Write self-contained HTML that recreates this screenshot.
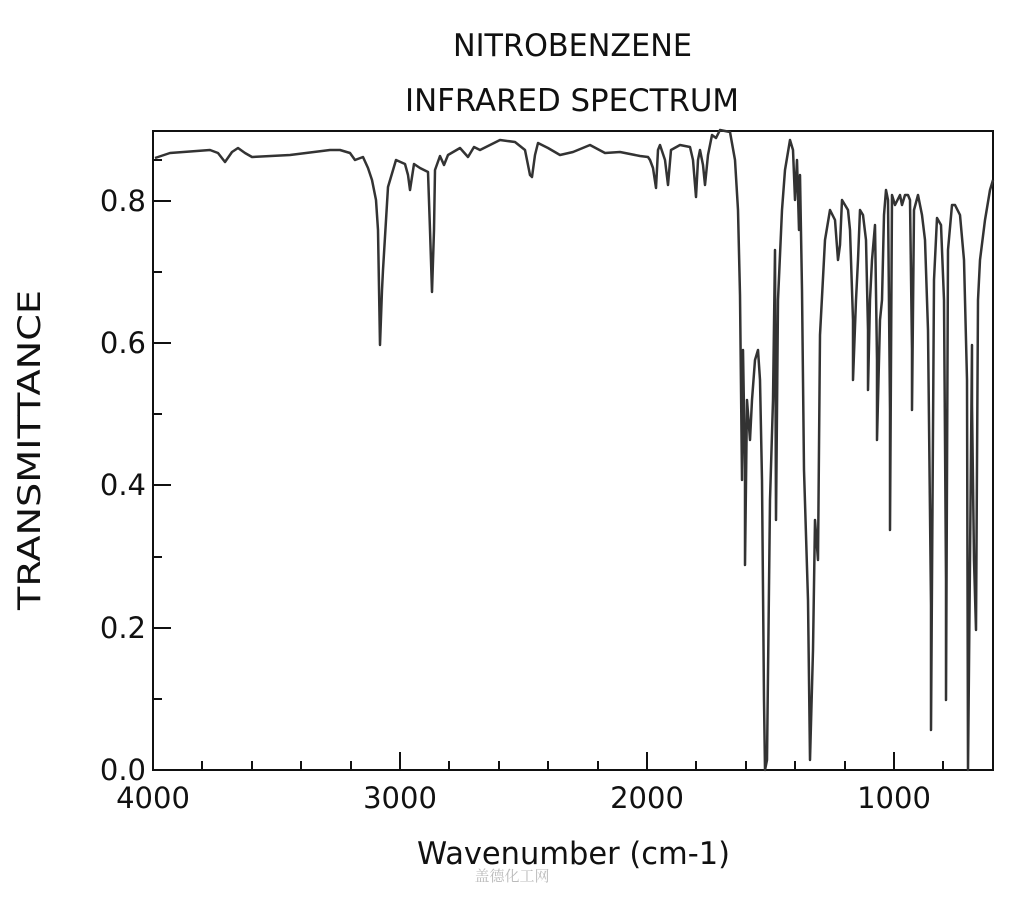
<!DOCTYPE html>
<html><head><meta charset="utf-8"><style>
body{margin:0;background:#fff;}
svg{display:block;}
text{font-family:"DejaVu Sans","Liberation Sans",sans-serif;fill:#111;}
</style></head><body>
<svg width="1024" height="900" viewBox="0 0 1024 900" xmlns="http://www.w3.org/2000/svg">
<rect width="1024" height="900" fill="#fff"/>
<text x="453" y="56" font-size="31" textLength="239" lengthAdjust="spacingAndGlyphs">NITROBENZENE</text>
<text x="405" y="111" font-size="31" textLength="334" lengthAdjust="spacingAndGlyphs">INFRARED SPECTRUM</text>
<rect x="153" y="131" width="840" height="639" fill="none" stroke="#111" stroke-width="2"/>
<g stroke="#111" stroke-width="2">
<path d="M153 770h18M153 628h18M153 485h18M153 343h18M153 201h18"/>
<path d="M153 699h9M153 557h9M153 414h9M153 272h9M153 160h9"/>
<path d="M400 770v-18M647 770v-18M894 770v-18"/>
<path d="M202 770v-9M252 770v-9M301 770v-9M351 770v-9M449 770v-9M499 770v-9M548 770v-9M598 770v-9M696 770v-9M746 770v-9M795 770v-9M845 770v-9M943 770v-9"/>
</g>
<g font-size="29" text-anchor="end">
<text x="146" y="780">0.0</text><text x="146" y="638">0.2</text><text x="146" y="495">0.4</text><text x="146" y="353">0.6</text><text x="146" y="211">0.8</text>
</g>
<g font-size="29" text-anchor="middle">
<text x="153" y="808">4000</text><text x="400" y="808">3000</text><text x="647" y="808">2000</text><text x="894" y="808">1000</text>
</g>
<text x="417" y="864" font-size="31" textLength="313" lengthAdjust="spacingAndGlyphs">Wavenumber (cm-1)</text>
<text transform="translate(40 610) rotate(-90)" font-size="31" textLength="320" lengthAdjust="spacingAndGlyphs">TRANSMITTANCE</text>
<text x="512" y="881" font-size="15" text-anchor="middle" style="font-family:'Noto Serif CJK SC',serif;fill:#bbb">盖德化工网</text>
<polyline fill="none" stroke="#333" stroke-width="2.5" stroke-linejoin="round" points="155,158 170,153 210,150 218,153 225,162 232,152 238,148 245,153 252,157 290,155 330,150 340,150 350,153 355,160 363,157 368,168 372,180 376,200 378,230 380,345 382,290 383,270 388,187 396,160 405,164 408,175 410,190 414,164 420,168 428,172 430,230 432,292 434,230 435,170 440,156 444,165 448,155 460,148 468,157 474,147 480,150 490,145 500,140 515,142 525,150 530,175 532,177 535,155 538,143 548,148 560,155 573,152 590,145 605,153 620,152 640,156 648,157 650,160 653,168 656,188 658,150 660,145 665,160 668,185 671,150 680,145 690,147 693,160 696,197 698,160 700,150 703,165 705,185 708,155 712,135 716,138 720,130 730,132 735,160 738,210 740,295 742,480 743,350 745,470 745,565 747,400 750,440 752,400 755,360 758,350 760,380 762,480 764,700 765,770 767,760 770,500 773,400 775,250 776,520 778,300 782,210 785,170 790,140 793,150 795,200 797,160 799,230 800,175 802,290 804,470 808,600 810,760 813,650 815,520 818,560 820,335 825,240 830,210 835,220 838,260 840,245 842,200 848,210 850,230 853,320 853,380 856,300 858,260 860,210 863,215 866,240 868,330 868,390 870,300 872,260 875,225 877,360 877,440 880,320 882,300 884,215 886,190 888,200 890,410 890,530 892,195 895,205 900,195 902,205 905,195 908,195 910,200 912,350 912,410 914,210 918,195 922,215 925,240 928,330 931,605 931,730 934,280 937,218 941,225 944,300 946,580 946,700 948,250 952,205 955,205 960,215 964,260 967,380 968,770 970,560 972,345 972,405 974,560 976,630 978,300 980,260 985,220 990,190 993,180"/>
</svg>
</body></html>
